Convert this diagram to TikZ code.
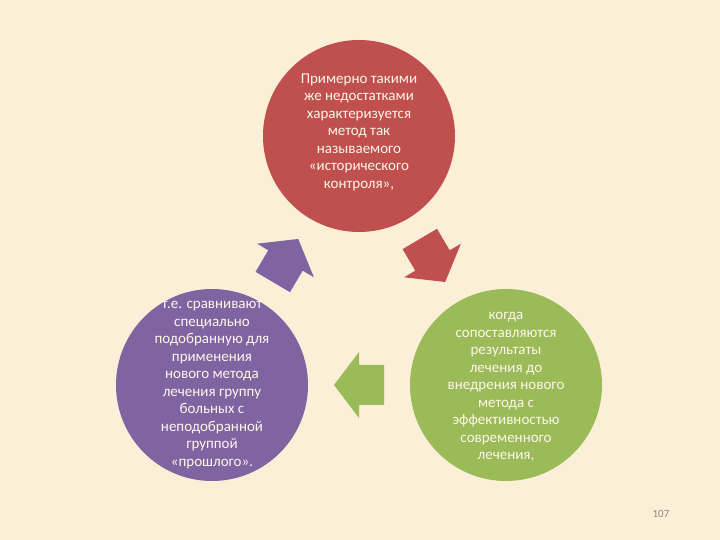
\documentclass[tikz,border=0pt]{standalone}
\usepackage{fontspec}
\setmainfont{Carlito}
\usetikzlibrary{calc}
\definecolor{bgc}{HTML}{FBEFD8}
\definecolor{redc}{HTML}{C0504D}
\definecolor{greenc}{HTML}{9BBB59}
\definecolor{purplec}{HTML}{8064A2}
\definecolor{txtc}{HTML}{FDF6EA}
\definecolor{numc}{HTML}{8A8A8A}
\newcommand\blockarr[3]{%
  \fill[#3, shift={#1}, rotate=#2] (-25,-20) -- (0,-20) -- (0,-33) -- (25,0) -- (0,33) -- (0,20) -- (-25,20) -- cycle;}
\begin{document}
\begin{tikzpicture}[x=1pt,y=1pt,
  bubble/.style={circle, minimum size=192pt, inner sep=0pt, text=txtc, align=center,
    font=\fontsize{15}{17.5}\selectfont}]
\fill[bgc] (0,0) rectangle (720,540);
\useasboundingbox (0,0) rectangle (720,540);
\node[bubble, fill=redc] (r) at (359,404) {};
\node[bubble, fill=purplec] (p) at (212,155) {};
\node[bubble, fill=greenc] (g) at (506,155) {};
\node[text=txtc, align=center, font=\fontsize{15}{17.5}\selectfont] (rt) at (359,408)
  {Примерно такими\\же недостатками\\характеризуется\\метод так\\называемого\\«исторического\\контроля»,};
\node[text=txtc, align=center, font=\fontsize{15}{17.5}\selectfont] (pt) at (212,155)
  {т.е. сравнивают\\специально\\подобранную для\\применения\\нового метода\\лечения группу\\больных с\\неподобранной\\группой\\«прошлого».};
\node[text=txtc, align=center, font=\fontsize{15}{17.5}\selectfont] (gt) at (506,153)
  {когда\\сопоставляются\\результаты\\лечения до\\внедрения нового\\метода с\\эффективностью\\современного\\лечения,};
\blockarr{($(p)!0.5!(r)$)}{59.4}{purplec}
\blockarr{($(r)!0.5!(g)$)}{-59.4}{redc}
\blockarr{($(g)!0.5!(p)$)}{180}{greenc}
\node[text=numc, font=\fontsize{11}{13}\selectfont] (num) at (661,26) {107};
\end{tikzpicture}
\end{document}
